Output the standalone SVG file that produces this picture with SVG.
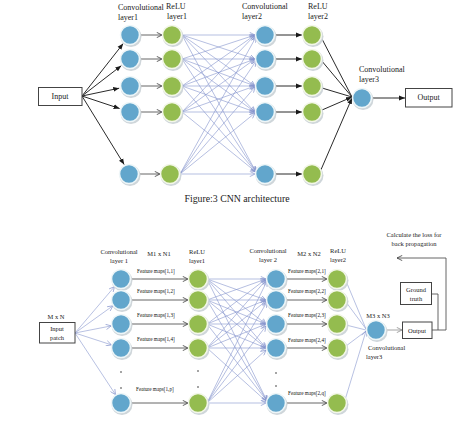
<svg xmlns="http://www.w3.org/2000/svg" width="474" height="424" viewBox="0 0 474 424">
<style>
text{font-family:"Liberation Serif","Times New Roman",serif;fill:#222}
.lt{font-size:8px}
.ls{font-size:6.5px}
.fm{font-size:5.2px;fill:#111}
.cap{font-size:9.8px}
.sh{fill:#cfd6da}
.blue{fill:#62a6cc;stroke:#eef6f8;stroke-width:1.6}
.green{fill:#94bc4f;stroke:#f3f7e8;stroke-width:1.6}
.box{fill:#fff;stroke:#444;stroke-width:1}
.dk{stroke:#2a2a2a;stroke-width:1;fill:none}
.gr{stroke:#555;stroke-width:0.9;fill:none}
.lb{stroke:#8593cc;stroke-width:0.6;fill:none}
.lb2{stroke:#9aa6d6;stroke-width:0.7;fill:none}
.lg{stroke:#9a9a9a;stroke-width:0.9;fill:none}
.dot{fill:#333}
</style>
<defs>
<marker id="af" viewBox="0 0 8 8" refX="8" refY="4" markerWidth="6" markerHeight="6" orient="auto" markerUnits="userSpaceOnUse"><path d="M0,0.8 L8,4 L0,7.2 Z" fill="#1a1a1a"/></marker>
<marker id="ao" viewBox="0 0 8 8" refX="7.5" refY="4" markerWidth="6" markerHeight="6" orient="auto" markerUnits="userSpaceOnUse"><path d="M0.5,0.5 L7.5,4 L0.5,7.5" fill="none" stroke="#333" stroke-width="1"/></marker>
<marker id="al" viewBox="0 0 8 8" refX="7.5" refY="4" markerWidth="6" markerHeight="6" orient="auto" markerUnits="userSpaceOnUse"><path d="M0.5,0.5 L7.5,4 L0.5,7.5" fill="none" stroke="#8593cc" stroke-width="0.9"/></marker>
<marker id="ag" viewBox="0 0 8 8" refX="7.5" refY="4" markerWidth="6" markerHeight="6" orient="auto" markerUnits="userSpaceOnUse"><path d="M0.5,0.5 L7.5,4 L0.5,7.5" fill="none" stroke="#888" stroke-width="1"/></marker>
<circle id="bn" r="9.5" class="blue"/>
<circle id="gn" r="9.5" class="green"/>
<circle id="sd" r="10.5" class="sh"/>
</defs>
<rect width="474" height="424" fill="#fff"/>

<!-- ===== Top diagram connectors ===== -->
<g id="top-connectors">
<path class="dk" marker-end="url(#af)" d="M82,96 L123.2,43.6"/>
<path class="dk" marker-end="url(#af)" d="M82,96 L121.3,65.7"/>
<path class="dk" marker-end="url(#af)" d="M82,96 L119.2,88.2"/>
<path class="dk" marker-end="url(#af)" d="M82,96 L119.6,108.5"/>
<path class="dk" marker-end="url(#af)" d="M82,96 L124.2,164.6"/>
<path class="gr" marker-end="url(#ao)" d="M140,35 H162"/>
<path class="gr" marker-end="url(#ao)" d="M140,59 H162"/>
<path class="gr" marker-end="url(#ao)" d="M140,86 H162"/>
<path class="gr" marker-end="url(#ao)" d="M140,112 H162"/>
<path class="gr" marker-end="url(#ao)" d="M140,174 H160"/>
<g class="lb" marker-end="url(#al)">
<path d="M182,35 L255,35"/><path d="M182,35 L255,59"/><path d="M182,35 L255,86"/><path d="M182,35 L255,112"/><path d="M182,35 L256,172"/>
<path d="M182,59 L255,35"/><path d="M182,59 L255,59"/><path d="M182,59 L255,86"/><path d="M182,59 L255,112"/><path d="M182,59 L256,172"/>
<path d="M182,86 L255,35"/><path d="M182,86 L255,59"/><path d="M182,86 L255,86"/><path d="M182,86 L255,112"/><path d="M182,86 L256,172"/>
<path d="M182,112 L255,35"/><path d="M182,112 L255,59"/><path d="M182,112 L255,86"/><path d="M182,112 L255,112"/><path d="M182,112 L256,172"/>
<path d="M180,174 L256,37"/><path d="M180,174 L256,61"/><path d="M180,174 L255,87"/><path d="M180,174 L255,113"/><path d="M180,174 L255,174"/>
</g>
<path class="dk" marker-end="url(#af)" d="M275,35 H302"/>
<path class="dk" marker-end="url(#af)" d="M275,59 H302"/>
<path class="dk" marker-end="url(#af)" d="M275,86 H302"/>
<path class="dk" marker-end="url(#af)" d="M275,112 H302"/>
<path class="dk" marker-end="url(#af)" d="M275,174 H302"/>
<path class="dk" d="M321,37 L352,97"/>
<path class="dk" d="M321,60 L352,97"/>
<path class="dk" d="M322,88 L352,97"/>
<path class="dk" marker-end="url(#af)" d="M322,110 L352,97"/>
<path class="dk" marker-end="url(#af)" d="M320,172 L352,98"/>
<path class="dk" marker-end="url(#af)" d="M372,98 H405"/>
</g>

<!-- ===== Top diagram nodes ===== -->
<g id="t-input"><rect class="box" x="38.5" y="87.5" width="43.5" height="18"/><text class="lt" x="60" y="99" text-anchor="middle">Input</text></g>
<g id="t-output"><rect class="box" x="405.5" y="88.5" width="46.5" height="18.5"/><text class="lt" x="428.5" y="100" text-anchor="middle">Output</text></g>
<g id="t-conv1-label"><text class="lt" x="118" y="10">Convolutional</text><text class="lt" x="118" y="20">layer1</text></g>
<g id="t-relu1-label"><text class="lt" x="166" y="9">ReLU</text><text class="lt" x="167" y="19">layer1</text></g>
<g id="t-conv2-label"><text class="lt" x="242" y="9">Convolutional</text><text class="lt" x="242" y="19">layer2</text></g>
<g id="t-relu2-label"><text class="lt" x="308" y="9">ReLU</text><text class="lt" x="308" y="19">layer2</text></g>
<g id="t-conv3-label"><text class="lt" x="359" y="72">Convolutional</text><text class="lt" x="359" y="82">layer3</text></g>

<g id="t-c1-1"><use href="#sd" x="131" y="36.5"/><use href="#bn" x="130" y="35"/></g>
<g id="t-c1-2"><use href="#sd" x="131" y="60.5"/><use href="#bn" x="130" y="59"/></g>
<g id="t-c1-3"><use href="#sd" x="131" y="87.5"/><use href="#bn" x="130" y="86"/></g>
<g id="t-c1-4"><use href="#sd" x="131" y="113.5"/><use href="#bn" x="130" y="112"/></g>
<g id="t-c1-5"><use href="#sd" x="130" y="175.5"/><use href="#bn" x="129" y="174"/></g>
<g id="t-r1-1"><use href="#sd" x="173" y="36.5"/><use href="#gn" x="172" y="35"/></g>
<g id="t-r1-2"><use href="#sd" x="173" y="60.5"/><use href="#gn" x="172" y="59"/></g>
<g id="t-r1-3"><use href="#sd" x="173" y="87.5"/><use href="#gn" x="172" y="86"/></g>
<g id="t-r1-4"><use href="#sd" x="173" y="113.5"/><use href="#gn" x="172" y="112"/></g>
<g id="t-r1-5"><use href="#sd" x="171" y="175.5"/><use href="#gn" x="170" y="174"/></g>
<g id="t-c2-1"><use href="#sd" x="266" y="36.5"/><use href="#bn" x="265" y="35"/></g>
<g id="t-c2-2"><use href="#sd" x="266" y="60.5"/><use href="#bn" x="265" y="59"/></g>
<g id="t-c2-3"><use href="#sd" x="266" y="87.5"/><use href="#bn" x="265" y="86"/></g>
<g id="t-c2-4"><use href="#sd" x="266" y="113.5"/><use href="#bn" x="265" y="112"/></g>
<g id="t-c2-5"><use href="#sd" x="266" y="175.5"/><use href="#bn" x="265" y="174"/></g>
<g id="t-r2-1"><use href="#sd" x="313" y="36.5"/><use href="#gn" x="312" y="35"/></g>
<g id="t-r2-2"><use href="#sd" x="313" y="60.5"/><use href="#gn" x="312" y="59"/></g>
<g id="t-r2-3"><use href="#sd" x="313" y="87.5"/><use href="#gn" x="312" y="86"/></g>
<g id="t-r2-4"><use href="#sd" x="313" y="113.5"/><use href="#gn" x="312" y="112"/></g>
<g id="t-r2-5"><use href="#sd" x="313" y="175.5"/><use href="#gn" x="312" y="174"/></g>
<g id="t-c3"><use href="#sd" x="363" y="99.5"/><use href="#bn" x="362" y="98"/></g>

<text class="cap" x="237" y="202" text-anchor="middle">Figure:3 CNN architecture</text>

<!-- ===== Bottom diagram connectors ===== -->
<g id="bottom-connectors">
<g class="lb2" marker-end="url(#al)">
<path d="M75,333 L114.5,286.6"/>
<path d="M75,333 L112.9,305.8"/>
<path d="M75,333 L111.2,325.9"/>
<path d="M75,333 L111.5,344.9"/>
<path d="M75,333 L115.5,394.6"/>
</g>
<g class="gr" marker-end="url(#ao)">
<path d="M131,279 H188"/><path d="M131,300 H188"/><path d="M131,324 H188"/><path d="M131,348 H188"/><path d="M131,403 H188"/>
</g>
<g class="lb" marker-end="url(#al)">
<path d="M207,279 L266,279"/><path d="M207,279 L266,300"/><path d="M207,279 L266,324"/><path d="M207,279 L266,348"/><path d="M207,279 L267,401"/>
<path d="M207,300 L266,279"/><path d="M207,300 L266,300"/><path d="M207,300 L266,324"/><path d="M207,300 L266,348"/><path d="M207,300 L267,401"/>
<path d="M207,324 L266,279"/><path d="M207,324 L266,300"/><path d="M207,324 L266,324"/><path d="M207,324 L266,348"/><path d="M207,324 L267,401"/>
<path d="M207,348 L266,280"/><path d="M207,348 L266,301"/><path d="M207,348 L266,324"/><path d="M207,348 L266,348"/><path d="M207,348 L267,402"/>
<path d="M207,403 L267,281"/><path d="M207,403 L267,302"/><path d="M207,403 L266,326"/><path d="M207,403 L266,350"/><path d="M207,403 L266,403"/>
</g>
<g class="gr" marker-end="url(#ao)">
<path d="M286,279 H327"/><path d="M286,300 H327"/><path d="M286,324 H327"/><path d="M286,348 H327"/><path d="M286,403 H327"/>
</g>
<g class="lb2">
<path d="M346,281 L366,329"/><path d="M346,302 L366,329"/><path d="M346,325 L366,330"/><path d="M346,346 L366,331"/>
<path d="M345,400 L366,331" marker-end="url(#al)"/>
</g>
<path class="lg" marker-end="url(#ag)" d="M386,330 H402"/>
<path class="gr" d="M432,330 H446 V258 H397" marker-end="url(#ao)"/>
<path class="gr" d="M431,294 H438 V330"/>
</g>

<!-- ===== Bottom diagram nodes ===== -->
<g id="b-input"><text class="ls" x="56" y="319" text-anchor="middle">M x N</text><rect class="box" x="39.5" y="322.5" width="35.5" height="20.5"/><text class="ls" x="57" y="331" text-anchor="middle">Input</text><text class="ls" x="57" y="340" text-anchor="middle">patch</text></g>
<g id="b-conv1-label"><text class="ls" x="119" y="254" text-anchor="middle">Convolutional</text><text class="ls" x="119" y="263" text-anchor="middle">layer 1</text></g>
<text class="ls" x="159" y="256" text-anchor="middle">M1 x N1</text>
<g id="b-relu1-label"><text class="ls" x="197" y="254" text-anchor="middle">ReLU</text><text class="ls" x="197" y="263" text-anchor="middle">layer1</text></g>
<g id="b-conv2-label"><text class="ls" x="268" y="253" text-anchor="middle">Convolutional</text><text class="ls" x="268" y="262" text-anchor="middle">layer 2</text></g>
<text class="ls" x="309" y="256" text-anchor="middle">M2 x N2</text>
<g id="b-relu2-label"><text class="ls" x="338" y="253" text-anchor="middle">ReLU</text><text class="ls" x="338" y="262" text-anchor="middle">layer2</text></g>
<g id="b-loss-label"><text class="ls" x="414" y="237" text-anchor="middle">Calculate the loss for</text><text class="ls" x="414" y="246" text-anchor="middle">back propagation</text></g>
<g id="b-ground"><rect class="box" x="400.5" y="282.5" width="31" height="22"/><text class="ls" x="416" y="292" text-anchor="middle">Ground</text><text class="ls" x="416" y="300.5" text-anchor="middle">truth</text></g>
<g id="b-output"><rect class="box" x="402.5" y="322" width="29.5" height="16.5"/><text class="ls" x="417" y="332.5" text-anchor="middle">Output</text></g>
<text class="ls" x="378" y="318" text-anchor="middle">M3 x N3</text>
<g id="b-conv3-label"><text class="ls" x="368" y="350">Convolutional</text><text class="ls" x="366" y="359">layer3</text></g>

<g id="b-fm1">
<text class="fm" x="137" y="273">Feature maps[1,1]</text>
<text class="fm" x="137" y="293">Feature maps[1,2]</text>
<text class="fm" x="137" y="317">Feature maps[1,3]</text>
<text class="fm" x="137" y="341">Feature maps[1,4]</text>
<text class="fm" x="136" y="391">Feature maps[1,p]</text>
</g>
<g id="b-fm2">
<text class="fm" x="288" y="273">Feature maps[2,1]</text>
<text class="fm" x="288" y="293">Feature maps[2,2]</text>
<text class="fm" x="288" y="317">Feature maps[2,3]</text>
<text class="fm" x="288" y="342">Feature maps[2,4]</text>
<text class="fm" x="288" y="395">Feature maps[2,q]</text>
</g>

<g id="b-c1-1"><use href="#sd" x="122" y="280.5"/><use href="#bn" x="121" y="279"/></g>
<g id="b-c1-2"><use href="#sd" x="122" y="301.5"/><use href="#bn" x="121" y="300"/></g>
<g id="b-c1-3"><use href="#sd" x="122" y="325.5"/><use href="#bn" x="121" y="324"/></g>
<g id="b-c1-4"><use href="#sd" x="122" y="349.5"/><use href="#bn" x="121" y="348"/></g>
<g id="b-c1-5"><use href="#sd" x="122" y="404.5"/><use href="#bn" x="121" y="403"/></g>
<g id="b-r1-1"><use href="#sd" x="199" y="280.5"/><use href="#gn" x="198" y="279"/></g>
<g id="b-r1-2"><use href="#sd" x="199" y="301.5"/><use href="#gn" x="198" y="300"/></g>
<g id="b-r1-3"><use href="#sd" x="199" y="325.5"/><use href="#gn" x="198" y="324"/></g>
<g id="b-r1-4"><use href="#sd" x="199" y="349.5"/><use href="#gn" x="198" y="348"/></g>
<g id="b-r1-5"><use href="#sd" x="199" y="404.5"/><use href="#gn" x="198" y="403"/></g>
<g id="b-c2-1"><use href="#sd" x="277" y="280.5"/><use href="#bn" x="276" y="279"/></g>
<g id="b-c2-2"><use href="#sd" x="277" y="301.5"/><use href="#bn" x="276" y="300"/></g>
<g id="b-c2-3"><use href="#sd" x="277" y="325.5"/><use href="#bn" x="276" y="324"/></g>
<g id="b-c2-4"><use href="#sd" x="277" y="349.5"/><use href="#bn" x="276" y="348"/></g>
<g id="b-c2-5"><use href="#sd" x="277" y="404.5"/><use href="#bn" x="276" y="403"/></g>
<g id="b-r2-1"><use href="#sd" x="338" y="280.5"/><use href="#gn" x="337" y="279"/></g>
<g id="b-r2-2"><use href="#sd" x="338" y="301.5"/><use href="#gn" x="337" y="300"/></g>
<g id="b-r2-3"><use href="#sd" x="338" y="325.5"/><use href="#gn" x="337" y="324"/></g>
<g id="b-r2-4"><use href="#sd" x="338" y="349.5"/><use href="#gn" x="337" y="348"/></g>
<g id="b-r2-5"><use href="#sd" x="338" y="404.5"/><use href="#gn" x="337" y="403"/></g>
<g id="b-c3"><use href="#sd" x="377" y="331.5"/><use href="#bn" x="376" y="330"/></g>

<g id="b-dots">
<circle class="dot" cx="121" cy="372" r="0.8"/><circle class="dot" cx="121" cy="388" r="0.8"/>
<circle class="dot" cx="198" cy="371" r="0.8"/><circle class="dot" cx="198" cy="387" r="0.8"/>
<circle class="dot" cx="276" cy="373" r="0.8"/><circle class="dot" cx="276" cy="386" r="0.8"/>
</g>
</svg>
